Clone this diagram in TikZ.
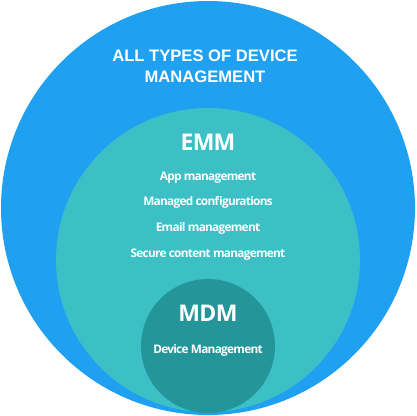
\documentclass[tikz,border=0pt]{standalone}
\usepackage{fontspec}
\setsansfont{Open Sans}
\newfontfamily\titlefont{Liberation Sans}
\newfontfamily\tightfont[LetterSpace=-6]{Open Sans}
\newfontfamily\headfont[LetterSpace=-3]{Open Sans}
\usetikzlibrary{positioning}
\definecolor{dmouter}{HTML}{20A0F0}
\definecolor{dmemm}{HTML}{3CC0C6}
\definecolor{dmmdm}{HTML}{24969A}

\tikzset{
  ring/.style={circle, inner sep=0pt},
  heading/.style={text=white, inner sep=0pt, font=\headfont\bfseries\fontsize{23}{23}\selectfont},
  feature/.style={text=white, inner sep=0pt, text height=8.5pt, text depth=2.5pt,
    font=\tightfont\bfseries\fontsize{11.8}{11.8}\selectfont},
}

\begin{document}
\begin{tikzpicture}[x=1pt, y=1pt, node distance=25.8pt, on grid]
    \useasboundingbox (-208,-208) rectangle (208,208);

    % Nested circles
    \node[ring, fill=dmouter, minimum size=414pt] (outer) at (0, 0) {};
    \node[ring, fill=dmemm, minimum size=304pt] (emm) at (0, -52) {};
    \node[ring, fill=dmmdm, minimum size=134pt] (mdm) at (0, -138) {};

    % Outer label
    \node[text=white, align=center, inner sep=0pt, font=\titlefont\bfseries\fontsize{16.6}{21}\selectfont] (alltypes) at (-3, 142) {ALL TYPES OF DEVICE\\MANAGEMENT};

    % EMM
    \node[heading] (emmtitle) at (0, 66) {EMM};
    \node[feature] (app) at (0, 31) {App management};
    \node[feature, below=of app] (config) {Managed configurations};
    \node[feature, below=of config] (email) {Email management};
    \node[feature, below=of email] (secure) {Secure content management};

    % MDM
    \node[heading] (mdmtitle) at (0, -105) {MDM};
    \node[feature] (device) at (0, -142) {Device Management};
\end{tikzpicture}
\end{document}
